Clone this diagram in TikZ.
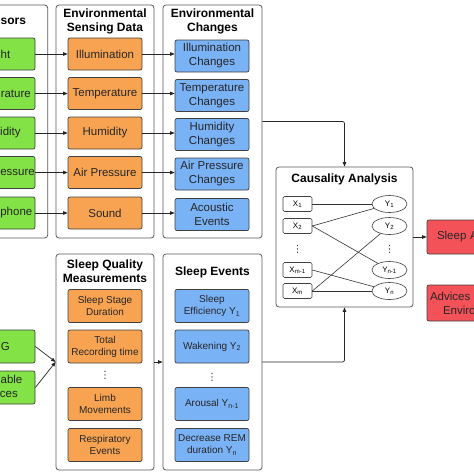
\documentclass[tikz,border=0pt]{standalone}
\usepackage{fontspec}
\setmainfont{Liberation Sans}
\newfontfamily\dotsfont{DejaVu Sans}
\usetikzlibrary{shapes.geometric,arrows.meta}
\definecolor{sensgreen}{RGB}{130,226,70}
\definecolor{dataorange}{RGB}{247,163,82}
\definecolor{changeblue}{RGB}{122,178,246}
\definecolor{alertred}{RGB}{242,82,88}
\begin{document}
\begin{tikzpicture}[x=1pt, y=-1pt,
		panel/.style={draw=black!65, line width=0.8pt, rounded corners=3pt, minimum width=98pt},
		base/.style={draw=black!75, line width=0.7pt, rounded corners=2pt, minimum width=74pt,
			minimum height=32pt, align=center, inner sep=1pt, text=black!85,
			font=\fontsize{11.5}{14}\selectfont},
		sensor/.style={base, fill=sensgreen},
		measure/.style={base, fill=dataorange},
		event/.style={base, fill=changeblue},
		alert/.style={base, fill=alertred, minimum width=120pt, align=left},
		small/.style={font=\fontsize{10}{12}\selectfont},
		dots/.style={inner sep=0pt, text=black!80, font=\dotsfont\fontsize{10}{12}\selectfont},
		head/.style={align=center, font=\bfseries\fontsize{12}{14}\selectfont},
		frag/.style={anchor=east, inner sep=0pt, text=black!85, font=\fontsize{11.5}{14}\selectfont},
		xbox/.style={draw=black!75, line width=0.6pt, rounded corners=1.5pt, minimum width=29pt,
			minimum height=15pt, inner sep=0pt, font=\fontsize{8}{9}\selectfont},
		ybox/.style={ellipse, draw=black!75, line width=0.6pt, minimum width=35pt,
			minimum height=17pt, inner sep=0pt, font=\fontsize{8}{9}\selectfont},
		link/.style={-{Triangle[length=4.5pt, width=3.5pt]}, draw=black!85, line width=0.7pt},
		rel/.style={draw=black!80, line width=0.6pt}
	]
	\useasboundingbox (0,0) rectangle (474,474);
	\clip (0,0) rectangle (474,474);

	% panels
	\node[panel, minimum height=233pt] at (-1.3, 121.5) (sensors) {};
	\node[panel, minimum height=233pt] at (105, 121.5) (envdata) {};
	\node[panel, minimum height=233pt, minimum width=99pt] at (212.5, 121.5) (envchange) {};
	\node[panel, minimum height=216pt] at (105, 362) (sqm) {};
	\node[panel, minimum height=216pt, minimum width=99pt] at (212.5, 362) (sevents) {};
	\node[panel, minimum height=140pt, minimum width=137pt] at (344.5, 237) (causal) {};

	\node[head, anchor=west, inner sep=0pt] at (0.5, 21) (senshead) {sors};
	\node[head] at (105, 21) (datahead) {Environmental\\Sensing Data};
	\node[head] at (212.5, 21) (changehead) {Environmental\\Changes};
	\node[head] at (105, 271) (sqmhead) {Sleep Quality\\Measurements};
	\node[head] at (212.5, 272) (sevhead) {Sleep Events};
	\node[head] at (344.5, 179) (causalhead) {Causality Analysis};

	\foreach \y/\gx/\g/\d/\yc/\c [count=\i] in {
		54/10.5/ht/Illumination/56/{Illumination\\Changes},
		93.5/31/rature/Temperature/95.5/{Temperature\\Changes},
		133/20.9/idity/Humidity/134.5/{Humidity\\Changes},
		172.5/35/essure/Air Pressure/174/{Air Pressure\\Changes},
		213/32.5/phone/Sound/214.5/{Acoustic\\Events}}{
		\node[sensor] at (-2, \y) (sens\i) {};
		\node[frag] at (\gx, \y) (senslbl\i) {\g};
		\node[measure] at (105, \y) (env\i) {\d};
		\node[event] at (212, \yc) (chg\i) {\c};
		\draw[link] (sens\i) -- (env\i);
		\draw[link] (env\i.east) -- (env\i.east -| chg\i.west);
	}

	\foreach \y/\q/\s [count=\i] in {
		306/{Sleep Stage\\Duration}/{Sleep\\Efficiency Y\textsubscript{1}},
		346.5/{Total\\Recording time}/{Wakening Y\textsubscript{2}},
		404/{Limb\\Movements}/{Arousal Y\textsubscript{n-1}},
		445/{Respiratory\\Events}/{Decrease REM\\duration Y\textsubscript{n}}}{
		\node[measure, small, minimum height=33pt] at (105, \y) (sq\i) {\q};
		\node[event, small, minimum height=33pt] at (212, \y) (se\i) {\s};
	}
	\node[dots] at (105, 375) (sqdots) {⋮};
	\node[dots] at (212, 377) (sedots) {⋮};

	% devices
	\node[sensor, minimum height=33pt] at (-2, 346.5) (eeg) {};
	\node[frag] at (10.1, 346.5) (eeglbl) {G};
	\node[sensor, minimum height=33pt] at (-2, 387.5) (wear) {};
	\node[frag] at (22.6, 379) (wearlbl) {able};
	\node[frag] at (18, 394) (wearlbl2) {ces};
	\draw[link] (eeg.east) -- (sqm.west);
	\draw[link] (wear.east) -- (sqm.west);
	\draw[link] (sqm) -- (sevents);

	% causality
	\foreach \y/\xl/\yl [count=\i] in {204/X\textsubscript{1}/Y\textsubscript{1},
		226/X\textsubscript{2}/Y\textsubscript{2}, 270/X\textsubscript{m-1}/Y\textsubscript{n-1},
		291/X\textsubscript{m}/Y\textsubscript{n}}{
		\node[xbox] at (297.5, \y) (x\i) {\xl};
		\node[ybox] at (389.5, \y) (y\i) {\yl};
	}
	\node[dots] at (297.5, 249) (xdots) {⋮};
	\node[dots] at (389.5, 249) (ydots) {⋮};
	\draw[rel] (x1.east) -- (y1);
	\draw[rel] (x2.east) -- (y1);
	\draw[rel] (x2.east) -- (y3);
	\draw[rel] (x3.east) -- (y4);
	\draw[rel] (x4.east) -- (y4);
	\draw[rel] (x4.east) -- (y2);

	\draw[link, rounded corners=2pt] (envchange.east) -| (causal.north);
	\draw[link, rounded corners=2pt] (sevents.east) -| (causal.south);

	% outcomes
	\node[alert, minimum height=34pt, text width=100pt, inner xsep=10pt] at (487, 237) (assess) {Sleep A};
	\node[alert, minimum height=36pt, text width=114pt, inner xsep=3pt] at (487, 303) (advice)
		{Advices\\\hspace*{13pt}Enviro};
	\draw[link] (causal) -- (assess);

\end{tikzpicture}
\end{document}
